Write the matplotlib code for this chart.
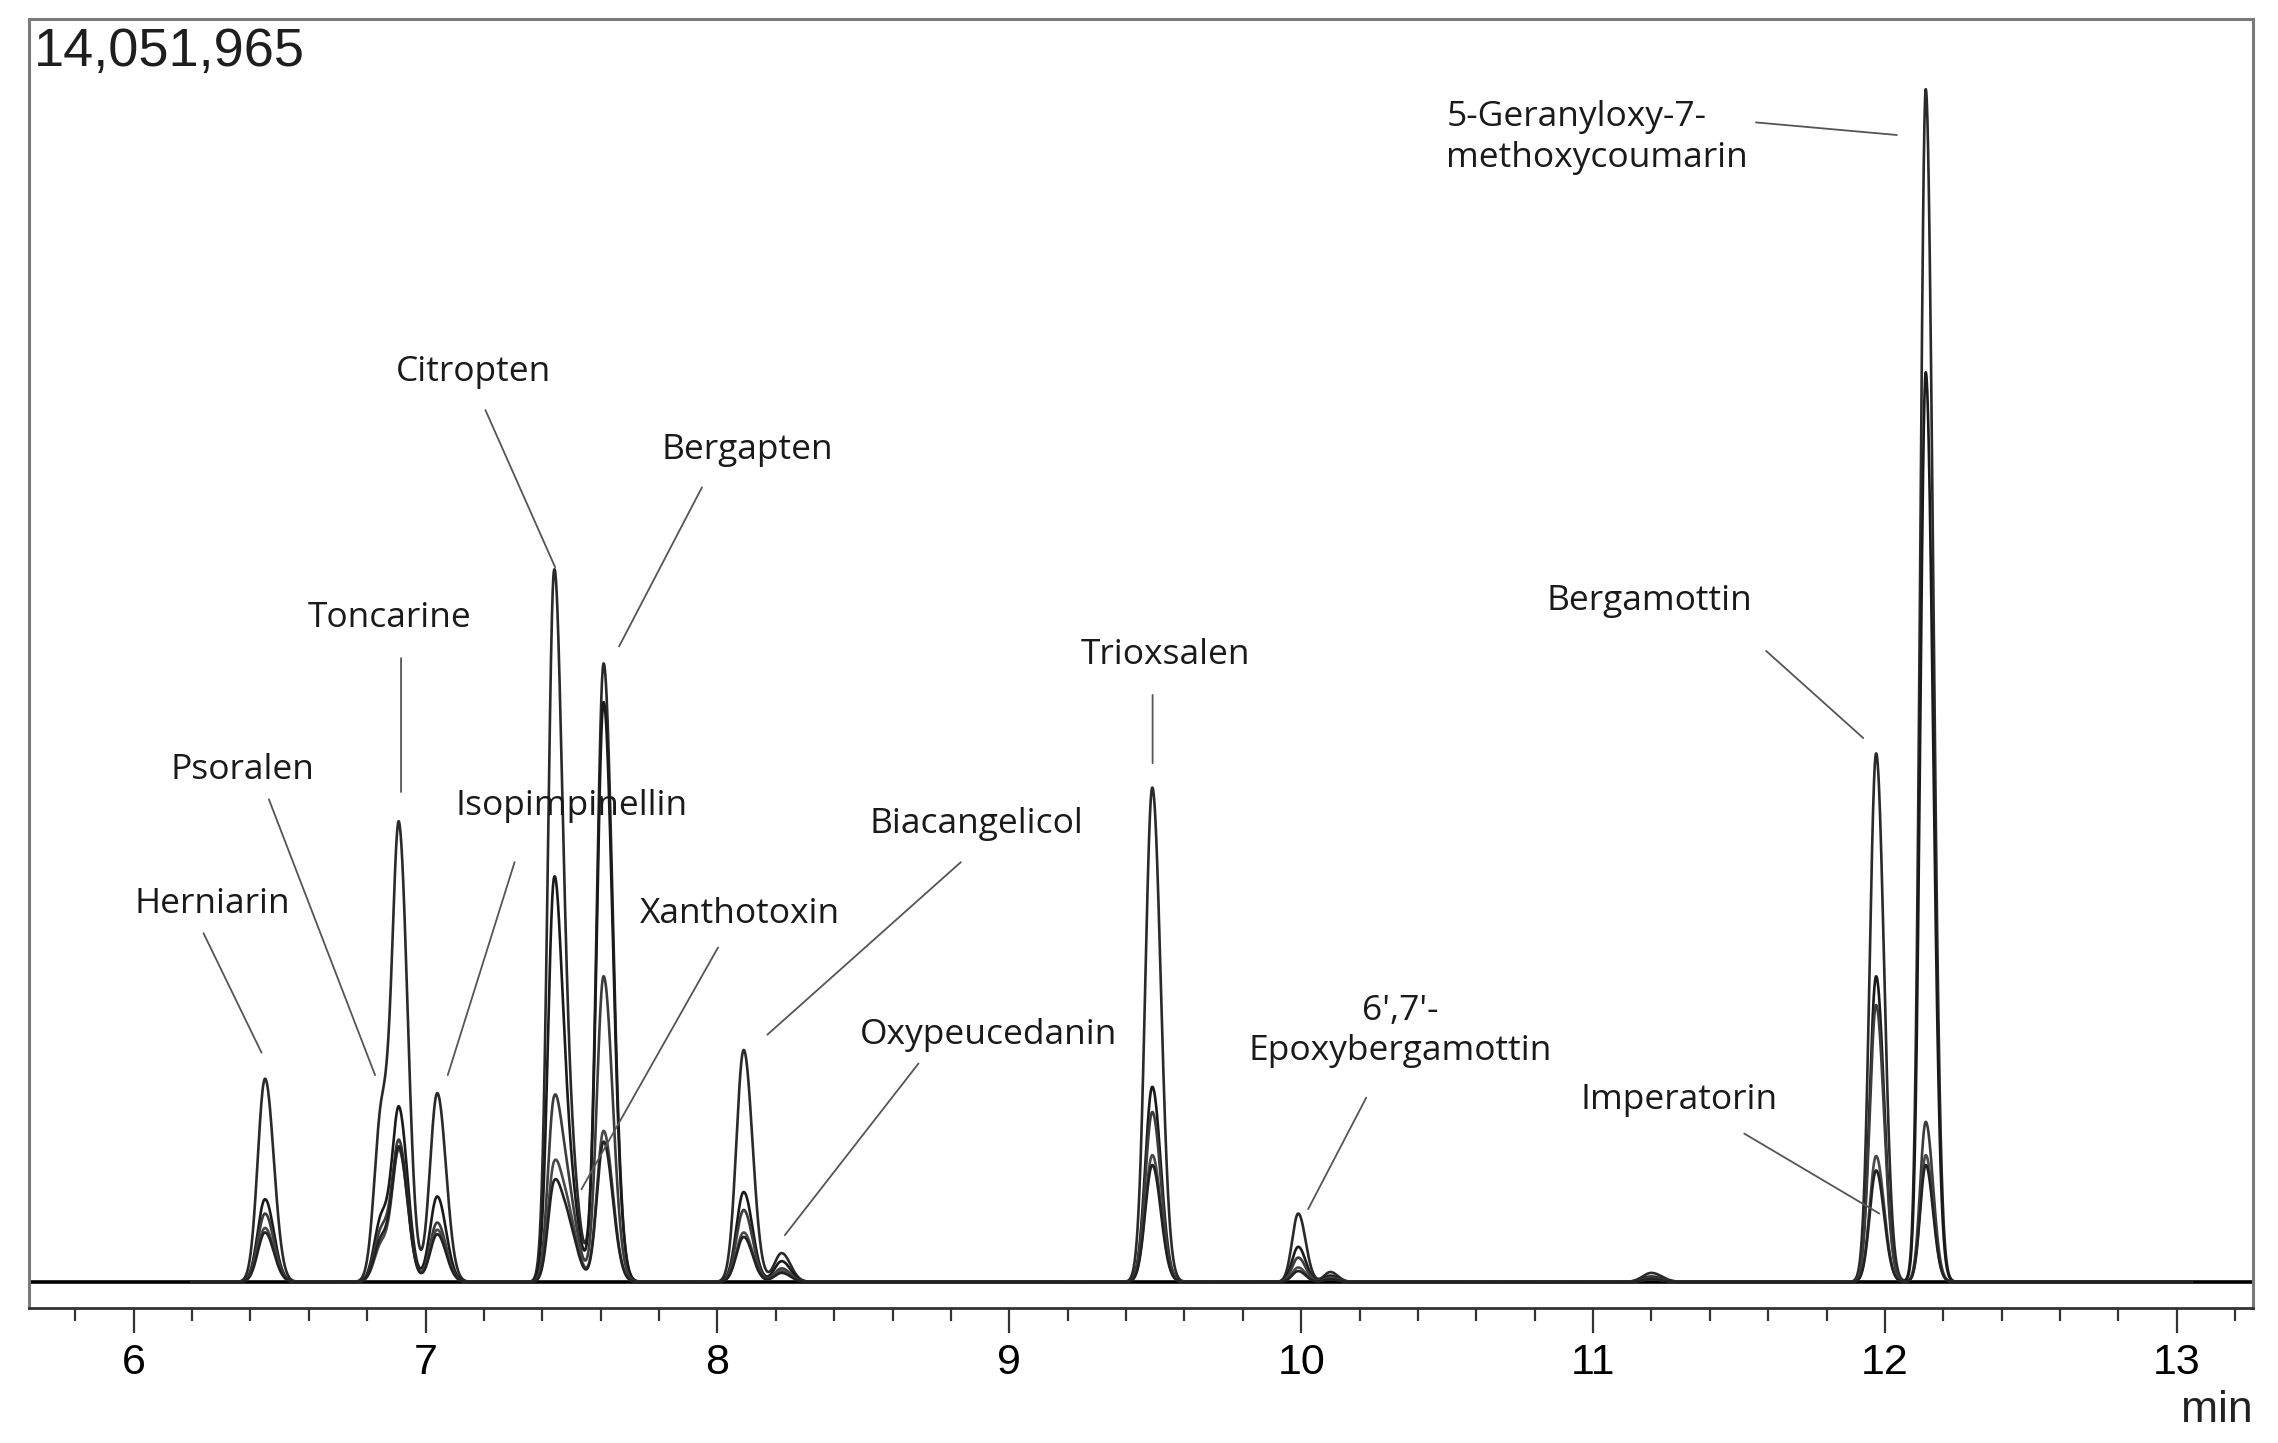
import numpy as np
import matplotlib
matplotlib.use("Agg")
import matplotlib.pyplot as plt

# ---------------- data ----------------
# retention times (min) of the peaks
peak_rt = [6.45, 6.85, 6.91, 7.04, 7.44, 7.49, 7.61, 8.09, 8.22,
           9.49, 9.99, 10.10, 11.20, 11.97, 12.14]
# left / right peak widths (sigma, min)
sigma_left = [0.025, 0.025, 0.023, 0.025, 0.021, 0.025, 0.023, 0.025, 0.025,
              0.024, 0.021, 0.021, 0.030, 0.022, 0.019]
sigma_right = [0.030, 0.030, 0.029, 0.030, 0.027, 0.031, 0.031, 0.030, 0.030,
               0.029, 0.025, 0.025, 0.035, 0.027, 0.025]
# peak heights (x 1e6 counts) for each overlaid trace
trace_1 = [2.26, 1.90, 4.85, 2.10, 7.72, 1.45, 6.88, 2.58, 0.32,
           5.50, 0.76, 0.11, 0.10, 5.88, 13.27]
trace_2 = [0.92, 0.72, 1.85, 0.95, 4.35, 1.10, 6.45, 1.00, 0.23,
           2.17, 0.39, 0.07, 0.06, 3.40, 10.12]
trace_3 = [0.76, 0.58, 1.50, 0.66, 1.95, 0.85, 3.40, 0.80, 0.15,
           1.89, 0.27, 0.05, 0.05, 3.08, 1.78]
trace_4 = [0.60, 0.42, 1.42, 0.58, 1.25, 0.66, 1.68, 0.55, 0.12,
           1.41, 0.16, 0.04, 0.03, 1.40, 1.41]
trace_5 = [0.55, 0.48, 1.44, 0.53, 1.05, 0.56, 1.56, 0.50, 0.10,
           1.30, 0.12, 0.03, 0.03, 1.24, 1.30]
traces = [trace_1, trace_2, trace_3, trace_4, trace_5]
trace_colors = ["#2a2a2a", "#1a1a1a", "#3c3c3c", "#4a4a4a", "#222222"]

max_intensity_label = "14,051,965"
x_ticks = [6, 7, 8, 9, 10, 11, 12, 13]

# compound labels: text, text position (min, 1e6), leader line start, leader line end
labels = ["Herniarin", "Psoralen", "Toncarine", "Citropten", "Bergapten",
          "Isopimpinellin", "Xanthotoxin", "Biacangelicol", "Oxypeucedanin",
          "Trioxsalen", "6',7'-\nEpoxybergamottin", "Imperatorin", "Bergamottin",
          "5-Geranyloxy-7-\nmethoxycoumarin"]
label_xy = [(6.269, 4.20), (6.373, 5.69), (6.876, 7.39), (7.165, 10.12),
            (8.102, 9.25), (7.499, 5.29), (8.077, 4.09), (8.888, 5.09),
            (8.928, 2.75), (9.536, 6.97), (10.338, 2.79), (11.294, 2.02),
            (11.194, 7.57), (10.497, 12.73)]
line_start = [(6.239, 3.88), (6.463, 5.37), (6.916, 6.94), (7.205, 9.70),
              (7.947, 8.84), (7.305, 4.67), (8.002, 3.72), (8.834, 4.67),
              (8.689, 2.43), (9.491, 6.53), (10.223, 2.05), (11.518, 1.65),
              (11.593, 7.02), (11.558, 12.90)]
line_end = [(6.438, 2.55), (6.827, 2.30), (6.916, 5.45), (7.444, 7.95),
            (7.663, 7.07), (7.076, 2.30), (7.534, 1.03), (8.171, 2.75),
            (8.231, 0.52), (9.491, 5.77), (10.024, 0.81), (11.981, 0.76),
            (11.926, 6.05), (12.041, 12.76)]
label_align = ["center"] * 13 + ["left"]

# ---------------- figure ----------------
fig = plt.figure(figsize=(22.78, 14.43), dpi=100)
ax = fig.add_axes([0.0127, 0.0936, 0.9763, 0.8932])

t = np.linspace(6.2, 13.05, 6000)
for heights, col in zip(traces, trace_colors):
    y = np.zeros_like(t)
    for rt, h, sl, sr in zip(peak_rt, heights, sigma_left, sigma_right):
        s = np.where(t < rt, sl, sr)
        y += h * np.exp(-0.5 * ((t - rt) / s) ** 2)
    ax.plot(t, y, color=col, lw=1.9, solid_joinstyle="round")

ax.axhline(0, color="black", lw=2.6, zorder=1)

ax.set_xlim(5.641, 13.261)
ax.set_ylim(-0.29, 14.05)

ax.set_xticks(x_ticks)
ax.set_xticks(np.arange(5.8, 13.3, 0.2), minor=True)
ax.set_xticklabels([str(v) for v in x_ticks], fontsize=31,
                   family=["Liberation Sans", "DejaVu Sans"])
ax.tick_params(axis="x", which="major", direction="out", length=18, width=1.6,
               pad=7, color="#333333")
ax.tick_params(axis="x", which="minor", direction="out", length=9.5, width=1.6,
               color="#333333")
ax.set_yticks([])

for side in ["left", "top", "right"]:
    ax.spines[side].set_color("#7a7a7a")
    ax.spines[side].set_linewidth(2.2)
ax.spines["bottom"].set_color("#333333")
ax.spines["bottom"].set_linewidth(2.0)

ax.text(0.002, 0.994, max_intensity_label, transform=ax.transAxes,
        ha="left", va="top", fontsize=39, color="#1e1e1e",
        family=["Liberation Sans", "DejaVu Sans"])

for txt, pos, p0, p1, al in zip(labels, label_xy, line_start, line_end, label_align):
    ax.text(pos[0], pos[1], txt, ha=al, va="center", fontsize=25.5,
            family=["Open Sans", "DejaVu Sans"], color="#1a1a1a",
            linespacing=1.25, ma=al)
    ax.annotate("", xy=p1, xytext=p0,
                arrowprops=dict(arrowstyle="-", color="#555555", lw=1.3,
                                shrinkA=0, shrinkB=0))

fig.text(0.989, 0.0146, "min", ha="right", va="baseline", fontsize=32,
         family=["Liberation Sans", "DejaVu Sans"], color="#222222")

fig.savefig("out.png", dpi=100, facecolor="white")
